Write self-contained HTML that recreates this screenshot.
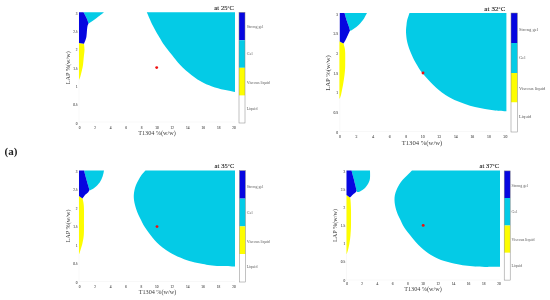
<!DOCTYPE html>
<html lang="en"><head><meta charset="utf-8"><title>Phase diagrams</title>
<style>
html,body{margin:0;padding:0;background:#fff;}
body{width:550px;height:300px;overflow:hidden;}
svg{display:block;font-family:"Liberation Serif",serif;}
.t{fill:#404040}.tt{fill:#262626;stroke:#333;stroke-width:.15px}.k{fill:#5a5a5a;stroke:#666;stroke-width:.1px}.l{fill:#5e5e5e}
</style></head><body>
<svg width="550" height="300" viewBox="0 0 550 300">
<rect width="550" height="300" fill="#fff"/>

<g>
<path d="M79.0,12.3 V122.0 H235.0" fill="none" stroke="#f1f1f1" stroke-width="0.5"/>
<path d="M146.80,12.30 C147.75,14.42 150.63,21.22 152.50,25.00 C154.37,28.78 156.58,32.50 158.00,35.00 C159.42,37.50 159.97,38.33 161.00,40.00 C162.03,41.67 162.37,42.50 164.20,45.00 C166.03,47.50 169.37,51.72 172.00,55.00 C174.63,58.28 176.72,61.33 180.00,64.70 C183.28,68.07 187.82,72.18 191.70,75.20 C195.58,78.22 199.42,80.77 203.30,82.80 C207.18,84.83 211.10,86.15 215.00,87.40 C218.90,88.65 223.37,89.52 226.70,90.30 C230.03,91.08 233.62,91.80 235.00,92.10 L235.00,12.30 Z" fill="#04cbe6"/>
<path d="M83.50,12.30 L104.00,12.30 C102.67,13.33 98.58,16.63 96.00,18.50 C93.42,20.37 89.75,22.67 88.50,23.50 C88.25,22.75 87.83,20.87 87.00,19.00 C86.17,17.13 84.08,13.42 83.50,12.30 Z" fill="#04cbe6"/>
<path d="M79.00,43.00 L84.00,43.70 C84.08,44.75 84.50,48.12 84.50,50.00 C84.50,51.88 84.17,53.33 84.00,55.00 C83.83,56.67 83.67,58.33 83.50,60.00 C83.33,61.67 83.25,63.33 83.00,65.00 C82.75,66.67 82.42,68.17 82.00,70.00 C81.58,71.83 80.95,74.42 80.50,76.00 C80.05,77.58 79.50,78.92 79.30,79.50 L79.00,79.50 Z" fill="#fdfd00"/>
<path d="M79.00,12.30 L83.50,12.30 C84.08,13.42 86.17,17.13 87.00,19.00 C87.83,20.87 88.25,22.75 88.50,23.50 C88.33,23.92 87.75,24.92 87.50,26.00 C87.25,27.08 87.17,28.33 87.00,30.00 C86.83,31.67 86.75,34.33 86.50,36.00 C86.25,37.67 85.92,38.72 85.50,40.00 C85.08,41.28 84.25,43.08 84.00,43.70 L79.00,43.00 Z" fill="#0606e0"/>
<circle cx="156.7" cy="67.6" r="1.45" fill="#f01010"/>
<rect x="239.0" y="12.30" width="6.0" height="27.90" fill="#0606e0"/>
<rect x="239.0" y="40.20" width="6.0" height="27.60" fill="#04cbe6"/>
<rect x="239.0" y="67.80" width="6.0" height="27.80" fill="#fdfd00"/>
<rect x="239.0" y="95.60" width="6.0" height="27.40" fill="#fff"/>
<rect x="239.0" y="12.30" width="6.0" height="110.70" fill="none" stroke="#858585" stroke-width="0.5"/>
<text class="l" x="246.8" y="28.3" font-size="4.0">Strong gel</text>
<text class="l" x="246.8" y="54.7" font-size="4.0">Gel</text>
<text class="l" x="246.8" y="83.5" font-size="4.0">Viscous liquid</text>
<text class="l" x="246.8" y="109.6" font-size="4.0">Liquid</text>
<text class="tt" x="234.0" y="10.1" font-size="6.4" text-anchor="end" letter-spacing="0.15">at 25<tspan font-size="4.6" dy="-0.9">°</tspan><tspan dy="0.9">C</tspan></text>
<text class="t" x="157.0" y="135.2" font-size="6.2" text-anchor="middle">T1304 %(w/w)</text>
<text class="t" transform="translate(70.2,67.7) rotate(-90)" font-size="6.2" text-anchor="middle">LAP %(w/w)</text>
<text class="k" x="79.7" y="128.5" font-size="3.5" text-anchor="middle">0</text>
<text class="k" x="95.1" y="128.5" font-size="3.5" text-anchor="middle">2</text>
<text class="k" x="110.6" y="128.5" font-size="3.5" text-anchor="middle">4</text>
<text class="k" x="126.0" y="128.5" font-size="3.5" text-anchor="middle">6</text>
<text class="k" x="141.5" y="128.5" font-size="3.5" text-anchor="middle">8</text>
<text class="k" x="156.9" y="128.5" font-size="3.5" text-anchor="middle">10</text>
<text class="k" x="172.3" y="128.5" font-size="3.5" text-anchor="middle">12</text>
<text class="k" x="187.8" y="128.5" font-size="3.5" text-anchor="middle">14</text>
<text class="k" x="203.2" y="128.5" font-size="3.5" text-anchor="middle">16</text>
<text class="k" x="218.7" y="128.5" font-size="3.5" text-anchor="middle">18</text>
<text class="k" x="234.1" y="128.5" font-size="3.5" text-anchor="middle">20</text>
<text class="k" x="77.6" y="124.5" font-size="3.5" text-anchor="end">0</text>
<text class="k" x="77.6" y="106.2" font-size="3.5" text-anchor="end">0.5</text>
<text class="k" x="77.6" y="87.9" font-size="3.5" text-anchor="end">1</text>
<text class="k" x="77.6" y="69.6" font-size="3.5" text-anchor="end">1.5</text>
<text class="k" x="77.6" y="51.3" font-size="3.5" text-anchor="end">2</text>
<text class="k" x="77.6" y="33.0" font-size="3.5" text-anchor="end">2.5</text>
<text class="k" x="77.6" y="14.7" font-size="3.5" text-anchor="end">3</text>
</g>
<g>
<path d="M339.8,13.0 V131.5 H506.4" fill="none" stroke="#f1f1f1" stroke-width="0.5"/>
<path d="M409.50,13.00 C409.12,14.17 407.70,18.00 407.20,20.00 C406.70,22.00 406.70,23.33 406.50,25.00 C406.30,26.67 406.05,28.33 406.00,30.00 C405.95,31.67 406.07,33.33 406.20,35.00 C406.33,36.67 406.50,38.33 406.80,40.00 C407.10,41.67 407.52,43.33 408.00,45.00 C408.48,46.67 409.07,48.33 409.70,50.00 C410.33,51.67 411.07,53.33 411.80,55.00 C412.53,56.67 413.23,58.33 414.10,60.00 C414.97,61.67 416.02,63.33 417.00,65.00 C417.98,66.67 418.83,68.33 420.00,70.00 C421.17,71.67 422.58,73.33 424.00,75.00 C425.42,76.67 426.95,78.33 428.50,80.00 C430.05,81.67 431.58,83.33 433.30,85.00 C435.02,86.67 436.77,88.33 438.80,90.00 C440.83,91.67 442.88,93.33 445.50,95.00 C448.12,96.67 451.25,98.50 454.50,100.00 C457.75,101.50 461.58,102.83 465.00,104.00 C468.42,105.17 471.67,106.17 475.00,107.00 C478.33,107.83 481.67,108.42 485.00,109.00 C488.33,109.58 491.43,110.12 495.00,110.50 C498.57,110.88 504.50,111.17 506.40,111.30 L506.40,13.00 Z" fill="#04cbe6"/>
<path d="M344.50,13.00 L367.00,13.00 C366.33,14.17 364.58,17.83 363.00,20.00 C361.42,22.17 359.33,24.33 357.50,26.00 C355.67,27.67 353.25,29.22 352.00,30.00 C350.75,30.78 350.33,30.58 350.00,30.70 L350.00,30.50 C349.83,29.92 349.58,28.75 349.00,27.00 C348.42,25.25 347.25,22.33 346.50,20.00 C345.75,17.67 344.83,14.17 344.50,13.00 Z" fill="#04cbe6"/>
<path d="M339.40,41.30 L343.50,43.50 C343.70,44.25 344.42,46.42 344.70,48.00 C344.98,49.58 345.12,50.17 345.20,53.00 C345.28,55.83 345.23,62.17 345.20,65.00 C345.17,67.83 345.12,68.33 345.00,70.00 C344.88,71.67 344.70,73.33 344.50,75.00 C344.30,76.67 344.05,78.33 343.80,80.00 C343.55,81.67 343.30,83.33 343.00,85.00 C342.70,86.67 342.33,88.33 342.00,90.00 C341.67,91.67 341.37,93.58 341.00,95.00 C340.63,96.42 340.00,97.92 339.80,98.50 L339.40,98.50 Z" fill="#fdfd00"/>
<path d="M339.80,13.00 L344.50,13.00 C344.83,14.17 345.75,17.67 346.50,20.00 C347.25,22.33 348.42,25.25 349.00,27.00 C349.58,28.75 349.83,29.92 350.00,30.50 C349.50,31.58 347.83,35.25 347.00,37.00 C346.17,38.75 345.58,39.92 345.00,41.00 C344.42,42.08 343.75,43.08 343.50,43.50 L339.80,41.50 Z" fill="#0606e0"/>
<circle cx="423.0" cy="73.0" r="1.45" fill="#f01010"/>
<rect x="511.0" y="13.00" width="6.4" height="30.00" fill="#0606e0"/>
<rect x="511.0" y="43.00" width="6.4" height="30.00" fill="#04cbe6"/>
<rect x="511.0" y="73.00" width="6.4" height="29.50" fill="#fdfd00"/>
<rect x="511.0" y="102.50" width="6.4" height="29.50" fill="#fff"/>
<rect x="511.0" y="13.00" width="6.4" height="119.00" fill="none" stroke="#858585" stroke-width="0.5"/>
<text class="l" x="519.0" y="31.0" font-size="4.6">Strong gel</text>
<text class="l" x="519.0" y="58.6" font-size="4.6">Gel</text>
<text class="l" x="519.0" y="90.1" font-size="4.6">Viscous liquid</text>
<text class="l" x="519.0" y="117.9" font-size="4.6">Liquid</text>
<text class="tt" x="505.5" y="10.5" font-size="6.9" text-anchor="end" letter-spacing="0.15">at 32<tspan font-size="5.0" dy="-0.9">°</tspan><tspan dy="0.9">C</tspan></text>
<text class="t" x="422.0" y="145.3" font-size="6.7" text-anchor="middle">T1304 %(w/w)</text>
<text class="t" transform="translate(330.0,73.0) rotate(-90)" font-size="6.7" text-anchor="middle">LAP %(w/w)</text>
<text class="k" x="340.0" y="138.0" font-size="3.8" text-anchor="middle">0</text>
<text class="k" x="356.5" y="138.0" font-size="3.8" text-anchor="middle">2</text>
<text class="k" x="373.1" y="138.0" font-size="3.8" text-anchor="middle">4</text>
<text class="k" x="389.6" y="138.0" font-size="3.8" text-anchor="middle">6</text>
<text class="k" x="406.2" y="138.0" font-size="3.8" text-anchor="middle">8</text>
<text class="k" x="422.7" y="138.0" font-size="3.8" text-anchor="middle">10</text>
<text class="k" x="439.2" y="138.0" font-size="3.8" text-anchor="middle">12</text>
<text class="k" x="455.8" y="138.0" font-size="3.8" text-anchor="middle">14</text>
<text class="k" x="472.3" y="138.0" font-size="3.8" text-anchor="middle">16</text>
<text class="k" x="488.9" y="138.0" font-size="3.8" text-anchor="middle">18</text>
<text class="k" x="505.4" y="138.0" font-size="3.8" text-anchor="middle">20</text>
<text class="k" x="338.2" y="133.8" font-size="3.8" text-anchor="end">0</text>
<text class="k" x="338.2" y="114.1" font-size="3.8" text-anchor="end">0.5</text>
<text class="k" x="338.2" y="94.4" font-size="3.8" text-anchor="end">1</text>
<text class="k" x="338.2" y="74.7" font-size="3.8" text-anchor="end">1.5</text>
<text class="k" x="338.2" y="55.0" font-size="3.8" text-anchor="end">2</text>
<text class="k" x="338.2" y="35.3" font-size="3.8" text-anchor="end">2.5</text>
<text class="k" x="338.2" y="15.6" font-size="3.8" text-anchor="end">3</text>
</g>
<g>
<path d="M79.0,170.5 V281.5 H235.0" fill="none" stroke="#f1f1f1" stroke-width="0.5"/>
<path d="M145.50,170.50 C144.83,171.25 142.67,173.42 141.50,175.00 C140.33,176.58 139.42,178.33 138.50,180.00 C137.58,181.67 136.67,183.33 136.00,185.00 C135.33,186.67 134.87,188.33 134.50,190.00 C134.13,191.67 133.88,193.33 133.80,195.00 C133.72,196.67 133.80,198.33 134.00,200.00 C134.20,201.67 134.58,203.33 135.00,205.00 C135.42,206.67 135.92,208.33 136.50,210.00 C137.08,211.67 137.75,213.33 138.50,215.00 C139.25,216.67 140.17,218.33 141.00,220.00 C141.83,221.67 142.53,223.33 143.50,225.00 C144.47,226.67 145.63,228.33 146.80,230.00 C147.97,231.67 149.22,233.33 150.50,235.00 C151.78,236.67 153.00,238.33 154.50,240.00 C156.00,241.67 157.58,243.33 159.50,245.00 C161.42,246.67 163.50,248.33 166.00,250.00 C168.50,251.67 171.00,253.28 174.50,255.00 C178.00,256.72 183.58,259.05 187.00,260.30 C190.42,261.55 192.33,261.88 195.00,262.50 C197.67,263.12 200.50,263.55 203.00,264.00 C205.50,264.45 207.17,264.87 210.00,265.20 C212.83,265.53 215.83,265.78 220.00,266.00 C224.17,266.22 232.50,266.42 235.00,266.50 L235.00,170.50 Z" fill="#04cbe6"/>
<path d="M84.00,170.50 L104.00,170.50 C103.77,171.50 103.32,174.50 102.60,176.50 C101.88,178.50 101.00,180.67 99.70,182.50 C98.40,184.33 96.37,186.20 94.80,187.50 C93.23,188.80 91.05,189.83 90.30,190.30 L89.50,190.00 C89.25,189.17 88.58,187.00 88.00,185.00 C87.42,183.00 86.67,180.42 86.00,178.00 C85.33,175.58 84.33,171.75 84.00,170.50 Z" fill="#04cbe6"/>
<path d="M79.00,196.00 L82.50,198.50 C82.67,199.25 83.25,201.08 83.50,203.00 C83.75,204.92 83.92,206.33 84.00,210.00 C84.08,213.67 84.03,220.83 84.00,225.00 C83.97,229.17 84.05,232.00 83.80,235.00 C83.55,238.00 83.05,240.50 82.50,243.00 C81.95,245.50 81.05,248.17 80.50,250.00 C79.95,251.83 79.42,253.33 79.20,254.00 L79.00,254.00 Z" fill="#fdfd00"/>
<path d="M79.00,170.50 L84.00,170.50 C84.33,171.75 85.33,175.58 86.00,178.00 C86.67,180.42 87.42,183.00 88.00,185.00 C88.58,187.00 89.25,189.17 89.50,190.00 C89.25,190.42 88.75,191.67 88.00,192.50 C87.25,193.33 85.92,194.00 85.00,195.00 C84.08,196.00 82.92,197.92 82.50,198.50 L79.00,196.00 Z" fill="#0606e0"/>
<circle cx="157.0" cy="226.6" r="1.45" fill="#f01010"/>
<rect x="239.4" y="170.60" width="6.0" height="28.00" fill="#0606e0"/>
<rect x="239.4" y="198.60" width="6.0" height="27.80" fill="#04cbe6"/>
<rect x="239.4" y="226.40" width="6.0" height="27.60" fill="#fdfd00"/>
<rect x="239.4" y="254.00" width="6.0" height="28.00" fill="#fff"/>
<rect x="239.4" y="170.60" width="6.0" height="111.40" fill="none" stroke="#858585" stroke-width="0.5"/>
<text class="l" x="246.8" y="187.8" font-size="4.0">Strong gel</text>
<text class="l" x="246.8" y="214.1" font-size="4.0">Gel</text>
<text class="l" x="246.8" y="243.4" font-size="4.0">Viscous liquid</text>
<text class="l" x="246.8" y="268.2" font-size="4.0">Liquid</text>
<text class="tt" x="234.3" y="168.2" font-size="6.4" text-anchor="end" letter-spacing="0.15">at 35<tspan font-size="4.6" dy="-0.9">°</tspan><tspan dy="0.9">C</tspan></text>
<text class="t" x="157.5" y="294.2" font-size="6.2" text-anchor="middle">T1304 %(w/w)</text>
<text class="t" transform="translate(70.2,226.0) rotate(-90)" font-size="6.2" text-anchor="middle">LAP %(w/w)</text>
<text class="k" x="79.6" y="287.8" font-size="3.5" text-anchor="middle">0</text>
<text class="k" x="95.0" y="287.8" font-size="3.5" text-anchor="middle">2</text>
<text class="k" x="110.5" y="287.8" font-size="3.5" text-anchor="middle">4</text>
<text class="k" x="125.9" y="287.8" font-size="3.5" text-anchor="middle">6</text>
<text class="k" x="141.4" y="287.8" font-size="3.5" text-anchor="middle">8</text>
<text class="k" x="156.8" y="287.8" font-size="3.5" text-anchor="middle">10</text>
<text class="k" x="172.2" y="287.8" font-size="3.5" text-anchor="middle">12</text>
<text class="k" x="187.7" y="287.8" font-size="3.5" text-anchor="middle">14</text>
<text class="k" x="203.1" y="287.8" font-size="3.5" text-anchor="middle">16</text>
<text class="k" x="218.6" y="287.8" font-size="3.5" text-anchor="middle">18</text>
<text class="k" x="234.0" y="287.8" font-size="3.5" text-anchor="middle">20</text>
<text class="k" x="77.6" y="283.7" font-size="3.5" text-anchor="end">0</text>
<text class="k" x="77.6" y="265.2" font-size="3.5" text-anchor="end">0.5</text>
<text class="k" x="77.6" y="246.7" font-size="3.5" text-anchor="end">1</text>
<text class="k" x="77.6" y="228.2" font-size="3.5" text-anchor="end">1.5</text>
<text class="k" x="77.6" y="209.8" font-size="3.5" text-anchor="end">2</text>
<text class="k" x="77.6" y="191.3" font-size="3.5" text-anchor="end">2.5</text>
<text class="k" x="77.6" y="172.8" font-size="3.5" text-anchor="end">3</text>
</g>
<g>
<path d="M346.5,170.5 V280.0 H500.0" fill="none" stroke="#f1f1f1" stroke-width="0.5"/>
<path d="M412.00,170.50 C411.25,171.25 409.08,173.42 407.50,175.00 C405.92,176.58 403.92,178.33 402.50,180.00 C401.08,181.67 400.00,183.33 399.00,185.00 C398.00,186.67 397.18,188.33 396.50,190.00 C395.82,191.67 395.23,193.33 394.90,195.00 C394.57,196.67 394.48,198.33 394.50,200.00 C394.52,201.67 394.72,203.33 395.00,205.00 C395.28,206.67 395.70,208.33 396.20,210.00 C396.70,211.67 397.28,213.33 398.00,215.00 C398.72,216.67 399.70,218.33 400.50,220.00 C401.30,221.67 401.88,223.33 402.80,225.00 C403.72,226.67 404.80,228.33 406.00,230.00 C407.20,231.67 408.67,233.33 410.00,235.00 C411.33,236.67 412.58,238.33 414.00,240.00 C415.42,241.67 416.83,243.33 418.50,245.00 C420.17,246.67 421.92,248.33 424.00,250.00 C426.08,251.67 428.17,253.33 431.00,255.00 C433.83,256.67 437.00,258.53 441.00,260.00 C445.00,261.47 451.00,262.88 455.00,263.80 C459.00,264.72 461.67,265.05 465.00,265.50 C468.33,265.95 471.67,266.27 475.00,266.50 C478.33,266.73 480.83,266.85 485.00,266.90 C489.17,266.95 497.50,266.82 500.00,266.80 L500.00,170.50 Z" fill="#04cbe6"/>
<path d="M351.50,170.50 L370.00,170.50 C370.00,171.75 370.25,175.92 370.00,178.00 C369.75,180.08 369.33,181.33 368.50,183.00 C367.67,184.67 366.42,186.58 365.00,188.00 C363.58,189.42 361.33,190.83 360.00,191.50 C358.67,192.17 357.50,191.92 357.00,192.00 L356.50,190.50 C356.33,189.75 356.00,188.08 355.50,186.00 C355.00,183.92 354.17,180.58 353.50,178.00 C352.83,175.42 351.83,171.75 351.50,170.50 Z" fill="#04cbe6"/>
<path d="M346.50,195.00 L350.00,197.50 C350.08,197.92 350.33,197.92 350.50,200.00 C350.67,202.08 350.92,205.83 351.00,210.00 C351.08,214.17 351.08,220.83 351.00,225.00 C350.92,229.17 350.75,232.00 350.50,235.00 C350.25,238.00 349.92,240.50 349.50,243.00 C349.08,245.50 348.47,248.17 348.00,250.00 C347.53,251.83 346.92,253.33 346.70,254.00 L346.50,254.00 Z" fill="#fdfd00"/>
<path d="M346.50,170.50 L351.50,170.50 C351.83,171.75 352.83,175.42 353.50,178.00 C354.17,180.58 355.00,183.92 355.50,186.00 C356.00,188.08 356.33,189.75 356.50,190.50 C356.42,190.75 356.58,191.33 356.00,192.00 C355.42,192.67 354.00,193.58 353.00,194.50 C352.00,195.42 350.50,197.00 350.00,197.50 L346.50,195.00 Z" fill="#0606e0"/>
<circle cx="423.2" cy="225.4" r="1.45" fill="#f01010"/>
<rect x="504.2" y="170.90" width="6.0" height="27.10" fill="#0606e0"/>
<rect x="504.2" y="198.00" width="6.0" height="27.50" fill="#04cbe6"/>
<rect x="504.2" y="225.50" width="6.0" height="27.30" fill="#fdfd00"/>
<rect x="504.2" y="252.80" width="6.0" height="27.30" fill="#fff"/>
<rect x="504.2" y="170.90" width="6.0" height="109.20" fill="none" stroke="#858585" stroke-width="0.5"/>
<text class="l" x="511.6" y="186.8" font-size="4.0">Strong gel</text>
<text class="l" x="511.6" y="213.4" font-size="4.0">Gel</text>
<text class="l" x="511.6" y="241.4" font-size="4.0">Viscous liquid</text>
<text class="l" x="511.6" y="266.5" font-size="4.0">Liquid</text>
<text class="tt" x="499.2" y="168.2" font-size="6.4" text-anchor="end" letter-spacing="0.15">at 37<tspan font-size="4.6" dy="-0.9">°</tspan><tspan dy="0.9">C</tspan></text>
<text class="t" x="423.0" y="291.2" font-size="6.2" text-anchor="middle">T1304 %(w/w)</text>
<text class="t" transform="translate(337.2,225.5) rotate(-90)" font-size="6.2" text-anchor="middle">LAP %(w/w)</text>
<text class="k" x="347.0" y="285.2" font-size="3.5" text-anchor="middle">0</text>
<text class="k" x="362.2" y="285.2" font-size="3.5" text-anchor="middle">2</text>
<text class="k" x="377.4" y="285.2" font-size="3.5" text-anchor="middle">4</text>
<text class="k" x="392.6" y="285.2" font-size="3.5" text-anchor="middle">6</text>
<text class="k" x="407.8" y="285.2" font-size="3.5" text-anchor="middle">8</text>
<text class="k" x="423.0" y="285.2" font-size="3.5" text-anchor="middle">10</text>
<text class="k" x="438.2" y="285.2" font-size="3.5" text-anchor="middle">12</text>
<text class="k" x="453.4" y="285.2" font-size="3.5" text-anchor="middle">14</text>
<text class="k" x="468.6" y="285.2" font-size="3.5" text-anchor="middle">16</text>
<text class="k" x="483.8" y="285.2" font-size="3.5" text-anchor="middle">18</text>
<text class="k" x="499.0" y="285.2" font-size="3.5" text-anchor="middle">20</text>
<text class="k" x="345.2" y="281.5" font-size="3.5" text-anchor="end">0</text>
<text class="k" x="345.2" y="263.4" font-size="3.5" text-anchor="end">0.5</text>
<text class="k" x="345.2" y="245.3" font-size="3.5" text-anchor="end">1</text>
<text class="k" x="345.2" y="227.2" font-size="3.5" text-anchor="end">1.5</text>
<text class="k" x="345.2" y="209.1" font-size="3.5" text-anchor="end">2</text>
<text class="k" x="345.2" y="191.0" font-size="3.5" text-anchor="end">2.5</text>
<text class="k" x="345.2" y="172.9" font-size="3.5" text-anchor="end">3</text>
</g>
<text x="4.6" y="155" font-size="11" font-weight="bold" fill="#222">(a)</text>
</svg></body></html>
